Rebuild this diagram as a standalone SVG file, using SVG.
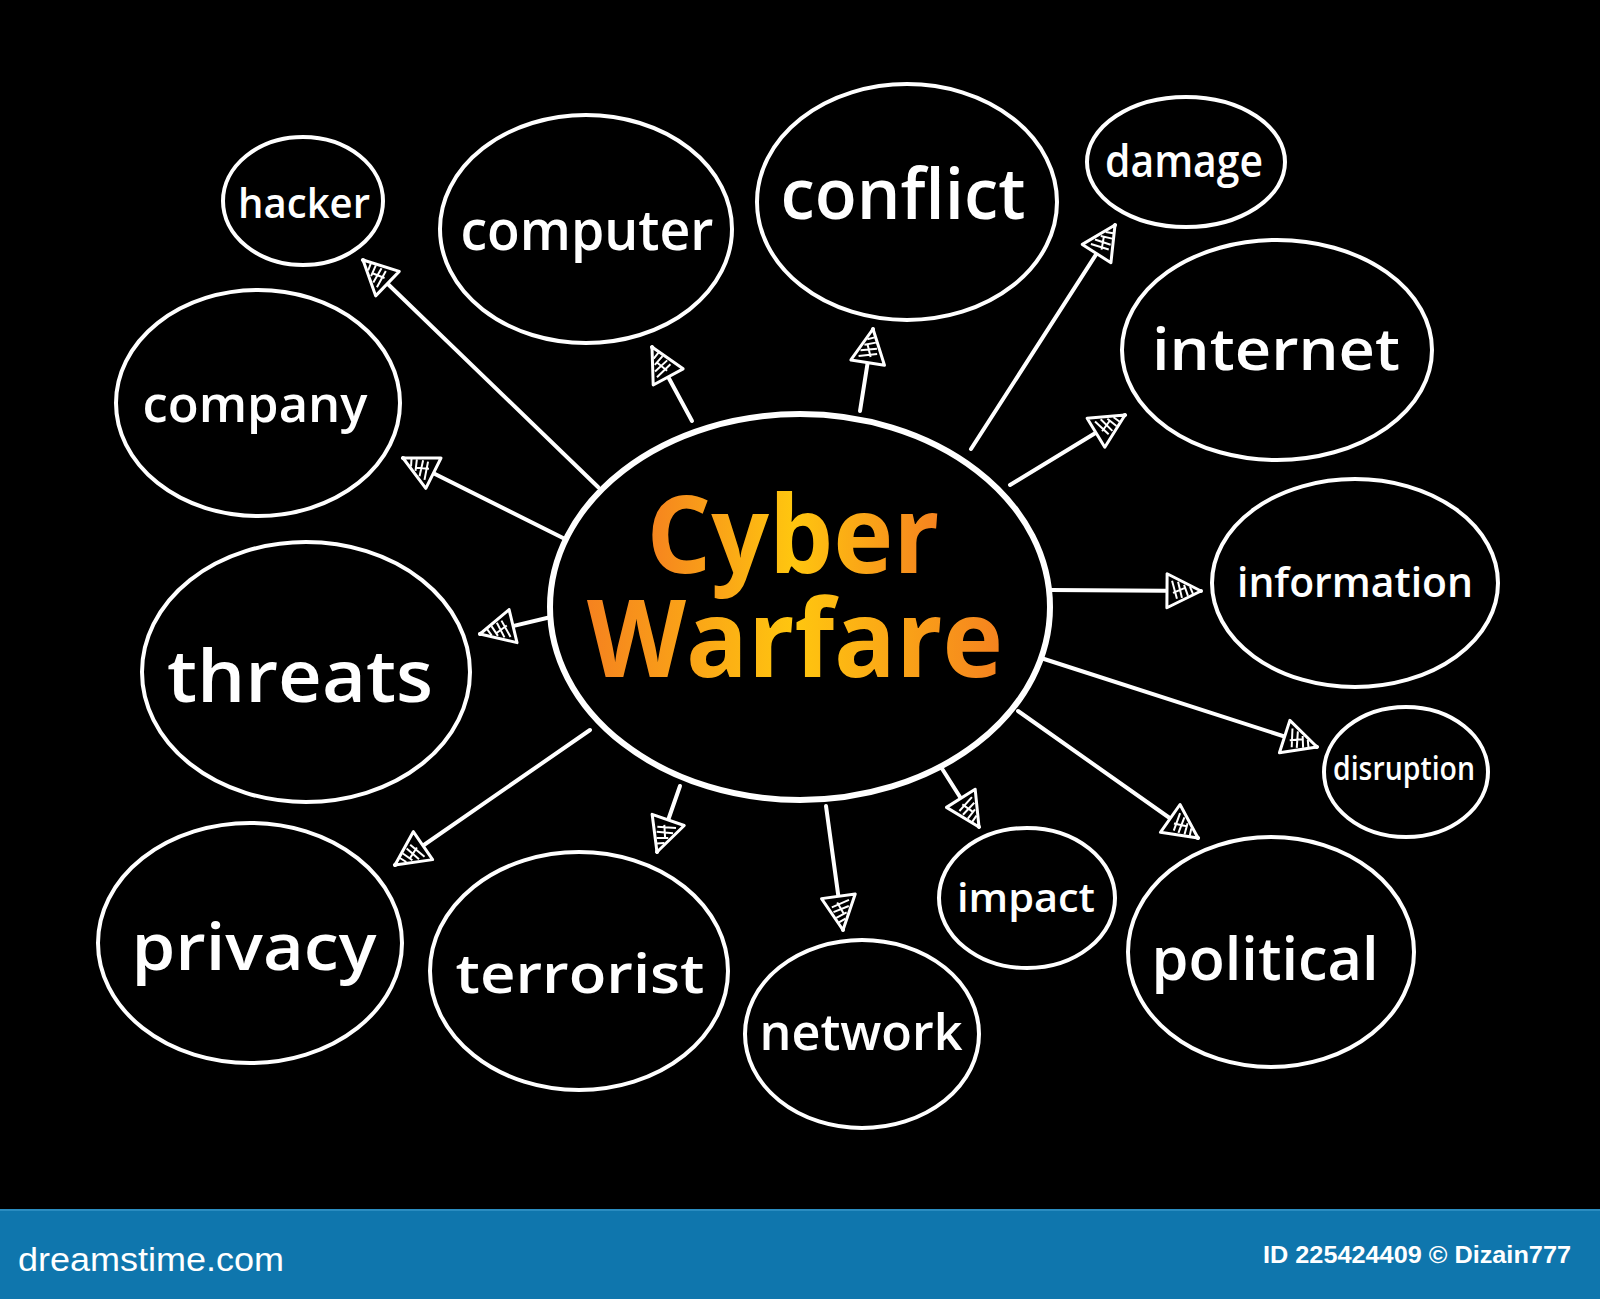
<svg xmlns="http://www.w3.org/2000/svg" width="1600" height="1299" viewBox="0 0 1600 1299">
<style>
.node{fill:#000;stroke:#fff;stroke-width:4}
.lbl{fill:#fff;font-family:"Open Sans","DejaVu Sans",sans-serif;font-weight:600;text-anchor:middle}
.conn line{stroke:#fff;stroke-width:4;stroke-linecap:round;marker-end:url(#ah)}
.bar{font-family:"Liberation Sans","DejaVu Sans",sans-serif;fill:#fff}
</style>
<defs>
<linearGradient id="og" x1="0" y1="0" x2="1" y2="0">
<stop offset="0" stop-color="#f5821f"/>
<stop offset="0.5" stop-color="#ffc60f"/>
<stop offset="1" stop-color="#f5821f"/>
</linearGradient>
<marker id="ah" markerUnits="userSpaceOnUse" viewBox="-40 -22 44 44" markerWidth="44" markerHeight="44" refX="0" refY="0" orient="auto" overflow="visible">
<path d="M0,0 L-34,-17 L-34,17 Z" fill="#000" stroke="#fff" stroke-width="3" stroke-linejoin="round"/>
<path d="M-29,-10 L-24,8 M-23,-9 L-19,7 M-17,-6 L-13,5 M-11,-4 L-8,3 M-28,2 L-16,-3" stroke="#fff" stroke-width="2" fill="none"/>
</marker>
</defs>
<rect x="0" y="0" width="1600" height="1299" fill="#000"/>
<rect x="0" y="1209" width="1600" height="90" fill="#0f76ad"/>
<rect x="0" y="1209" width="1600" height="2" fill="#2a8cc0"/>

<g id="connectors" class="conn">
<line x1="598" y1="487" x2="363" y2="260"/>
<line x1="563" y1="538" x2="403" y2="458"/>
<line x1="692" y1="421" x2="652" y2="347"/>
<line x1="860" y1="411" x2="873" y2="329"/>
<line x1="971" y1="449" x2="1115" y2="225"/>
<line x1="1010" y1="485" x2="1125" y2="415"/>
<line x1="1051" y1="590" x2="1201" y2="591"/>
<line x1="1041" y1="658" x2="1317" y2="747"/>
<line x1="1018" y1="711" x2="1198" y2="838"/>
<line x1="941" y1="767" x2="979" y2="827"/>
<line x1="826" y1="806" x2="843" y2="930"/>
<line x1="680" y1="786" x2="657" y2="852"/>
<line x1="590" y1="730" x2="395" y2="865"/>
<line x1="551" y1="617" x2="480" y2="634"/>
</g>

<g id="center">
<ellipse cx="800" cy="607" rx="250" ry="193" fill="#000" stroke="#fff" stroke-width="6"/>
<text x="793" y="573" font-family="Open Sans, DejaVu Sans, sans-serif" font-weight="700" font-size="108" text-anchor="middle" fill="url(#og)" textLength="293" lengthAdjust="spacingAndGlyphs">Cyber</text>
<text x="795" y="677" font-family="Open Sans, DejaVu Sans, sans-serif" font-weight="700" font-size="108" text-anchor="middle" fill="url(#og)" textLength="416" lengthAdjust="spacingAndGlyphs">Warfare</text>
</g>

<g id="hacker"><ellipse class="node" cx="303" cy="201" rx="80" ry="64"/><text class="lbl" x="304" y="218" font-size="42" textLength="132" lengthAdjust="spacingAndGlyphs">hacker</text></g>
<g id="computer"><ellipse class="node" cx="586" cy="229" rx="146" ry="114"/><text class="lbl" x="587" y="250" font-size="56" textLength="253" lengthAdjust="spacingAndGlyphs">computer</text></g>
<g id="conflict"><ellipse class="node" cx="907" cy="202" rx="150" ry="118"/><text class="lbl" x="903" y="219" font-size="70" textLength="245" lengthAdjust="spacingAndGlyphs">conflict</text></g>
<g id="damage"><ellipse class="node" cx="1186" cy="162" rx="99" ry="65"/><text class="lbl" x="1184" y="177" font-size="46" textLength="158" lengthAdjust="spacingAndGlyphs">damage</text></g>
<g id="internet"><ellipse class="node" cx="1277" cy="350" rx="155" ry="110"/><text class="lbl" x="1276" y="370" font-size="58" textLength="248" lengthAdjust="spacingAndGlyphs">internet</text></g>
<g id="information"><ellipse class="node" cx="1355" cy="583" rx="143" ry="104"/><text class="lbl" x="1355" y="597" font-size="42" textLength="236" lengthAdjust="spacingAndGlyphs">information</text></g>
<g id="disruption"><ellipse class="node" cx="1406" cy="772" rx="82" ry="65"/><text class="lbl" x="1404" y="780" font-size="32" textLength="142" lengthAdjust="spacingAndGlyphs">disruption</text></g>
<g id="political"><ellipse class="node" cx="1271" cy="952" rx="143" ry="115"/><text class="lbl" x="1265" y="980" font-size="60" textLength="227" lengthAdjust="spacingAndGlyphs">political</text></g>
<g id="impact"><ellipse class="node" cx="1027" cy="898" rx="88" ry="70"/><text class="lbl" x="1026" y="912" font-size="40" textLength="138" lengthAdjust="spacingAndGlyphs">impact</text></g>
<g id="network"><ellipse class="node" cx="862" cy="1034" rx="117" ry="94"/><text class="lbl" x="861" y="1050" font-size="50" textLength="203" lengthAdjust="spacingAndGlyphs">network</text></g>
<g id="terrorist"><ellipse class="node" cx="579" cy="971" rx="149" ry="119"/><text class="lbl" x="580" y="993" font-size="55" textLength="249" lengthAdjust="spacingAndGlyphs">terrorist</text></g>
<g id="privacy"><ellipse class="node" cx="250" cy="943" rx="152" ry="120"/><text class="lbl" x="254" y="970" font-size="66" textLength="245" lengthAdjust="spacingAndGlyphs">privacy</text></g>
<g id="threats"><ellipse class="node" cx="306" cy="672" rx="164" ry="130"/><text class="lbl" x="300" y="702" font-size="72" textLength="266" lengthAdjust="spacingAndGlyphs">threats</text></g>
<g id="company"><ellipse class="node" cx="258" cy="403" rx="142" ry="113"/><text class="lbl" x="255" y="422" font-size="50" textLength="225" lengthAdjust="spacingAndGlyphs">company</text></g>

<text class="bar" x="18" y="1271" font-size="34" textLength="266" lengthAdjust="spacingAndGlyphs">dreamstime.com</text>
<text class="bar" x="1571" y="1263" font-size="23" font-weight="700" text-anchor="end" textLength="308" lengthAdjust="spacingAndGlyphs">ID 225424409 © Dizain777</text>
</svg>
